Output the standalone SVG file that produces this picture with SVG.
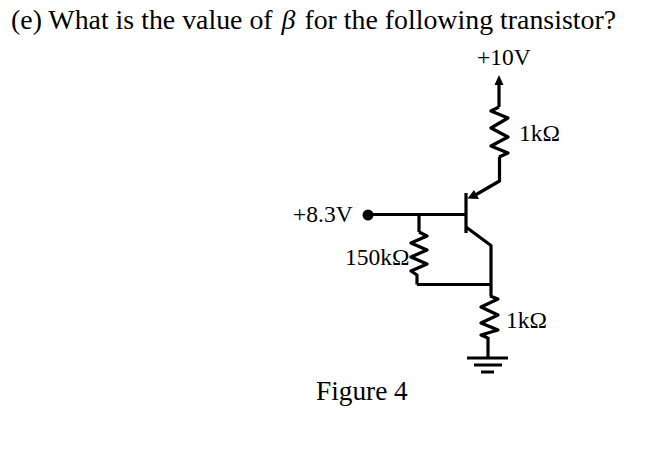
<svg xmlns="http://www.w3.org/2000/svg" width="651" height="454" viewBox="0 0 651 454">
<style>
text{font-family:"Liberation Serif","Times New Roman",serif;fill:#000}
.t{font-size:27.850px}.l{font-size:23.500px}.f{font-size:27.300px}
.w{fill:none;stroke:#000;stroke-width:3.200;stroke-linejoin:round}
</style>
<rect width="651" height="454" fill="#fff"/>
<text class="t" x="11" y="29">(e) What is the value of <tspan font-style="italic" dx="2">β</tspan><tspan dx="2"> for the following transistor?</tspan></text>
<g id="connectors">
<path class="w" d="M499 85V107"/>
<path d="M499 75L503.500 85H494.500Z"/>
<path class="w" d="M499.500 157V181L472 197"/>
<path d="M467.500 198.500L474 190L479 199Z"/>
<path class="w" d="M372 214.500H466"/>
<path class="w" d="M419 214.500V232"/>
<path class="w" d="M417 284.500H490"/>
<path class="w" d="M466 227L491 245.500V296"/>
<path class="w" d="M488 337V358"/>
</g>
<g id="v10"><text class="l" x="477" y="65">+10V</text></g>
<g id="r1"><path class="w" d="M499 107L491 111L508 118L491 128L508 137L491 146L508 153L499 157"/><text class="l" x="519" y="141">1kΩ</text></g>
<g id="q1"><path class="w" d="M466 193V233"/></g>
<g id="v83"><circle cx="368" cy="215" r="5.500"/><text class="l" x="293" y="222">+8.3V</text></g>
<g id="r2"><path class="w" d="M419 232L427 236L411 243L427 250L411 257L427 264L411 271L417 275V284.500"/><text class="l" x="345" y="265">150kΩ</text></g>
<g id="r3"><path class="w" d="M490 296L498 299L481 307L498 315L481 323L498 330L481 335L488 338"/><text class="l" x="506" y="328">1kΩ</text></g>
<g id="gnd"><path class="w" d="M467 358H508M474 365H502M481 372H494"/></g>
<g id="caption"><text class="f" x="316" y="400">Figure 4</text></g>
</svg>
